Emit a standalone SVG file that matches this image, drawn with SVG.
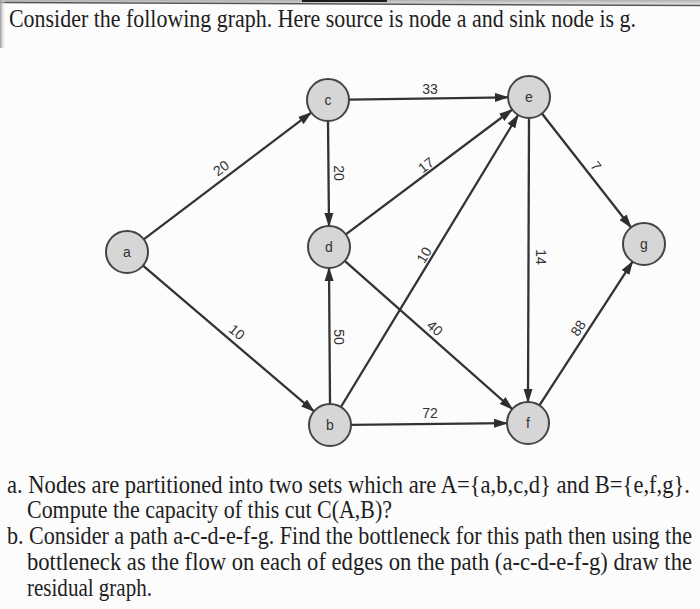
<svg xmlns="http://www.w3.org/2000/svg" width="700" height="609" viewBox="0 0 700 609">
<defs>
<marker id="arr" markerWidth="14" markerHeight="10" refX="13" refY="5" orient="auto" markerUnits="userSpaceOnUse">
<path d="M0,0.5 L14,5 L0,9.5 Z" fill="#2e2e2e"/>
</marker>
<linearGradient id="lg" x1="0" y1="0" x2="1" y2="0">
<stop offset="0" stop-color="#9a9a9a"/>
<stop offset="1" stop-color="#ffffff" stop-opacity="0"/>
</linearGradient>
<linearGradient id="tg" x1="0" y1="0" x2="0" y2="1">
<stop offset="0" stop-color="#b0b0b0"/>
<stop offset="1" stop-color="#e8e8e8"/>
</linearGradient>
</defs>
<style>
.edge{stroke:#333;stroke-width:2.3;fill:none;marker-end:url(#arr)}
.node circle{fill:#d6d6d6;stroke:#444;stroke-width:2}
.node text{font-family:"Liberation Sans",Arial,sans-serif;font-size:14px;fill:#333;text-anchor:middle;dominant-baseline:central}
.lbl{font-family:"Liberation Sans",Arial,sans-serif;font-size:14px;fill:#333;text-anchor:middle;dominant-baseline:central}
.body{font-family:"Liberation Serif","Times New Roman",serif;font-size:25px;fill:#1e1e1e}
</style>
<rect width="700" height="609" fill="#fcfcfc"/>
<polygon points="0,0 700,0 700,5 0,2" fill="url(#tg)"/>
<line x1="0" y1="2.5" x2="700" y2="5.5" stroke="#555" stroke-width="1.5"/>
<rect x="302" y="0" width="85" height="2" fill="#1a1a1a"/>
<rect x="0" y="0" width="6" height="48" fill="url(#lg)"/>
<g transform="scale(0.94,1)">
<text class="body" x="9.57" y="27" font-size="23" textLength="667" lengthAdjust="spacingAndGlyphs">Consider the following graph. Here source is node a and sink node is g.</text>
</g>

<g id="connectors">
<line class="edge" x1="143.7" y1="239.3" x2="311.2" y2="112.7"/>
<line class="edge" x1="143.0" y1="265.6" x2="314.0" y2="411.4"/>
<line class="edge" x1="328" y1="121" x2="329" y2="226"/>
<line class="edge" x1="349" y1="99.7" x2="508" y2="97.3"/>
<line class="edge" x1="345.8" y1="234.4" x2="512.2" y2="109.6"/>
<line class="edge" x1="344.7" y1="260.9" x2="512.3" y2="409.1"/>
<line class="edge" x1="330" y1="404" x2="329" y2="268"/>
<line class="edge" x1="340.9" y1="407.0" x2="518.1" y2="115.0"/>
<line class="edge" x1="351" y1="424.8" x2="507" y2="423.2"/>
<line class="edge" x1="529" y1="118" x2="528" y2="402"/>
<line class="edge" x1="541.9" y1="113.5" x2="631.1" y2="227.5"/>
<line class="edge" x1="539.4" y1="405.4" x2="632.6" y2="261.6"/>
<text class="lbl" transform="translate(221,168) rotate(-37)">20</text>
<text class="lbl" transform="translate(339,173) rotate(90)">20</text>
<text class="lbl" x="430" y="89">33</text>
<text class="lbl" transform="translate(426,165) rotate(-37)">17</text>
<text class="lbl" transform="translate(424,255) rotate(-59)">10</text>
<text class="lbl" transform="translate(541,257) rotate(90)">14</text>
<text class="lbl" transform="translate(596,166) rotate(52)">7</text>
<text class="lbl" transform="translate(237,332) rotate(40)">10</text>
<text class="lbl" transform="translate(339,337) rotate(90)">50</text>
<text class="lbl" transform="translate(435,328) rotate(41)">40</text>
<text class="lbl" x="430" y="413">72</text>
<text class="lbl" transform="translate(578,328) rotate(-57)">88</text>
</g>

<g id="node-a" class="node"><circle cx="127" cy="252" r="21"/><text x="127" y="252">a</text></g>
<g id="node-c" class="node"><circle cx="328" cy="100" r="21"/><text x="328" y="100">c</text></g>
<g id="node-d" class="node"><circle cx="329" cy="247" r="21"/><text x="329" y="247">d</text></g>
<g id="node-e" class="node"><circle cx="529" cy="97" r="21"/><text x="529" y="97">e</text></g>
<g id="node-g" class="node"><circle cx="644" cy="244" r="21"/><text x="644" y="244">g</text></g>
<g id="node-b" class="node"><circle cx="330" cy="425" r="21"/><text x="330" y="425">b</text></g>
<g id="node-f" class="node"><circle cx="528" cy="423" r="21"/><text x="528" y="423">f</text></g>

<g transform="scale(0.9,1)">
<text class="body" x="7.8" y="493" textLength="758.9" lengthAdjust="spacingAndGlyphs">a. Nodes are partitioned into two sets which are A={a,b,c,d} and B={e,f,g}.</text>
<text class="body" x="30" y="518" textLength="405.6" lengthAdjust="spacingAndGlyphs">Compute the capacity of this cut C(A,B)?</text>
<text class="body" x="30" y="570" textLength="738.9" lengthAdjust="spacingAndGlyphs">bottleneck as the flow on each of edges on the path (a-c-d-e-f-g) draw the</text>
<text class="body" x="30" y="596" textLength="138.9" lengthAdjust="spacingAndGlyphs">residual graph.</text>
</g>
<g transform="scale(0.88,1)">
<text class="body" x="7.95" y="544" textLength="778.4" lengthAdjust="spacingAndGlyphs">b. Consider a path a-c-d-e-f-g. Find the bottleneck for this path then using the</text>
</g>
</svg>
